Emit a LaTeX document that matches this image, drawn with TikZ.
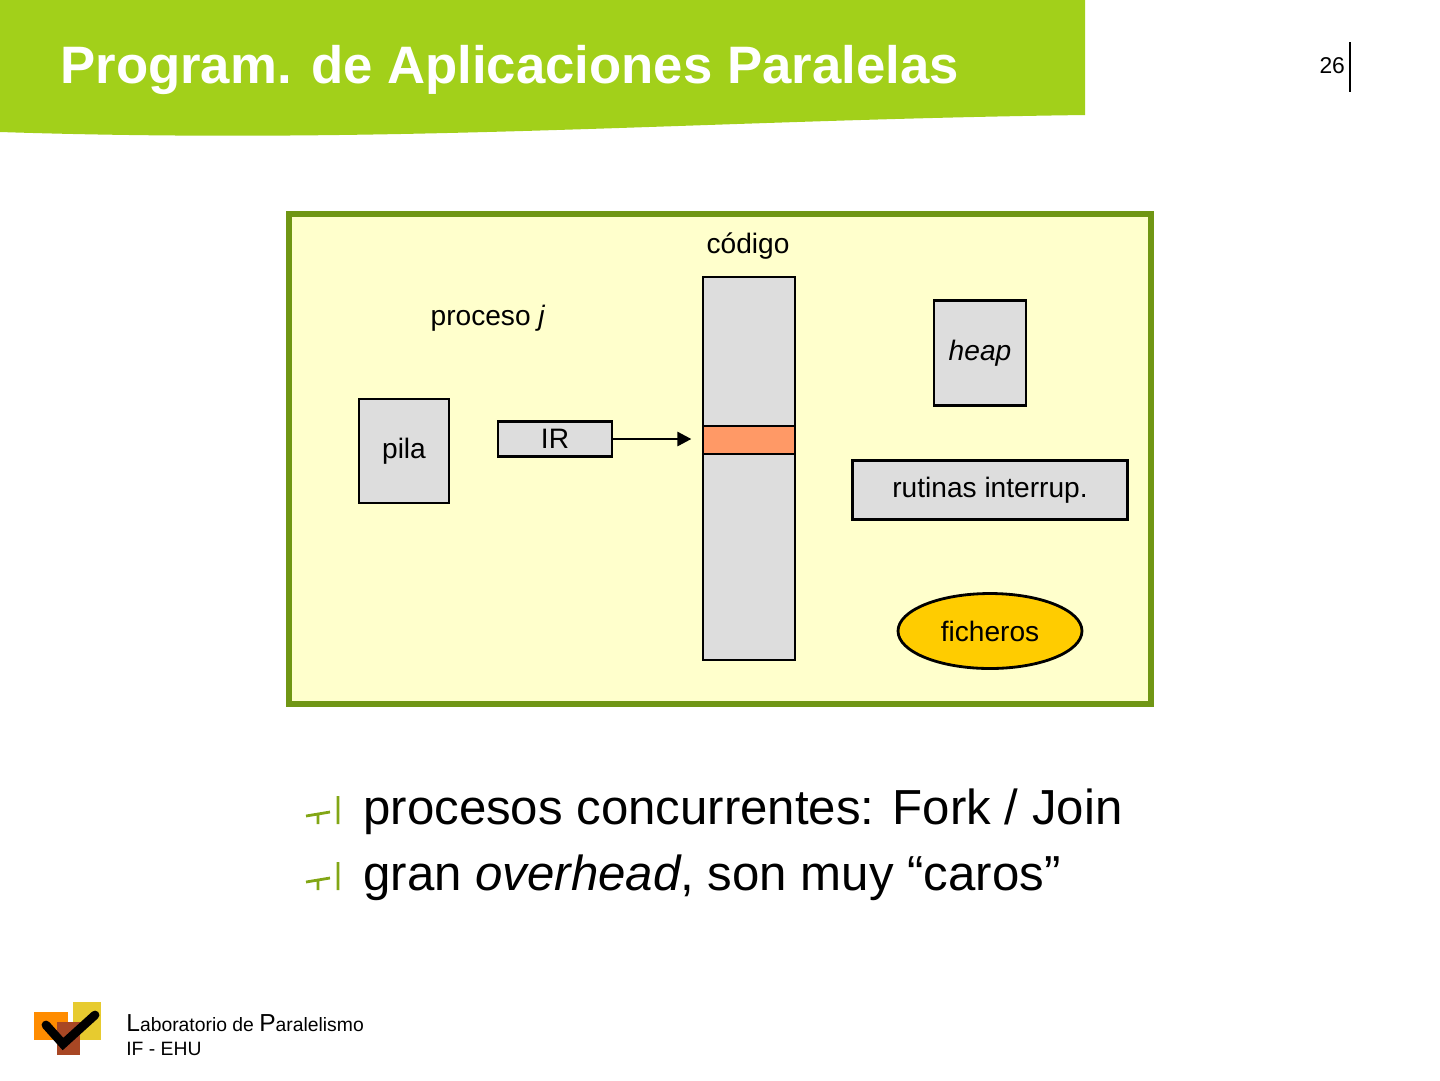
\documentclass[tikz,border=0pt]{standalone}
\usepackage{fontspec}
\setmainfont{Liberation Sans}
\usetikzlibrary{shapes.geometric,arrows.meta,positioning}
\definecolor{lime}{RGB}{162,208,26}
\definecolor{frame}{RGB}{112,150,20}
\definecolor{pale}{RGB}{255,255,204}
\definecolor{boxgray}{RGB}{221,221,221}
\definecolor{salmon}{RGB}{255,153,102}
\definecolor{gold}{RGB}{255,204,0}
\tikzset{
  blk/.style={draw=black, line width=1.6pt, fill=boxgray, inner sep=0pt, font=\fontsize{16}{18}\selectfont},
  lbl/.style={inner sep=0pt, font=\fontsize{16}{18}\selectfont},
  item/.style={anchor=west, inner sep=0pt, font=\fontsize{28}{32}\selectfont},
  bulletmark/.style={draw=lime!80!black, line width=1.6pt}
}
\begin{document}
\begin{tikzpicture}[x=0.02cm, y=-0.02cm]
\useasboundingbox (0,0) rectangle (1440,1080);
% header
\fill[lime] (0,0) -- (1085,0) -- (1085,115) .. controls (700,120) and (400,145) .. (0,132) -- cycle;
\node (title) [anchor=west, text=white, font=\fontsize{30}{34}\selectfont\bfseries, inner sep=0pt] at (60,70) {Program. de Aplicaciones Paralelas};
\node (page) [anchor=east, font=\fontsize{13}{15}\selectfont, inner sep=1pt] at (1347,66) {26};
\draw[line width=0.8pt] (1350,42) -- (1350,92);
% process frame
\fill[pale, draw=frame, line width=3pt] (289,214) rectangle (1151,704);
\node (proc) [lbl] at (488,318) {proceso \textit{j}};
\node (cod) [lbl] at (748,246) {código};
\node (code) [blk, minimum width=1.84cm, minimum height=7.66cm] at (749,468.5) {};
\node (ir) [draw=black, line width=1.6pt, fill=salmon, minimum width=1.84cm, minimum height=0.56cm, inner sep=0pt] at (749,440) {};
\node (pila) [blk, minimum width=1.8cm, minimum height=2.08cm] at (404,451) {pila};
\node (irreg) [blk, minimum width=2.28cm, minimum height=0.7cm] at (555,439) {IR};
\node (heap) [blk, minimum width=1.84cm, minimum height=2.1cm] at (980,353) {\textit{heap}};
\node (rut) [blk, minimum width=5.5cm, minimum height=1.18cm] at (990,490) {rutinas interrup.};
\node (fich) [ellipse, draw=black, line width=1.6pt, fill=gold, minimum width=3.68cm, minimum height=1.5cm, lbl] at (990,631) {ficheros};
\draw[-{Triangle[length=8pt,width=8pt]}, line width=1.6pt] (irreg.east) -- ++(78,0);
% bullets
\foreach \yy in {812,878} {
  \draw[bulletmark] (306,\yy+4) -- (330,\yy) (318,\yy+1) -- (318,\yy+12) (338,\yy-16) -- (338,\yy+12);
}
\node (b1) [item] at (363,812) {procesos concurrentes: Fork / Join};
\node (b2) [item] at (363,878) {gran \textit{overhead}, son muy “caros”};
% logo
\fill[orange!90!yellow] (34,1012) rectangle (68,1040);
\fill[yellow!60!brown] (73,1002) rectangle (101,1040);
\fill[brown!70!red!80!black] (57,1022) rectangle (80,1055);
\draw[line width=5pt, line cap=round] (46,1025) -- (63,1044) -- (95,1015);
\node (lab) [anchor=west, inner sep=0pt, font=\fontsize{11}{13}\selectfont] at (126,1023) {{\fontsize{14}{16}\selectfont L}aboratorio de {\fontsize{14}{16}\selectfont P}aralelismo};
\node (ehu) [anchor=west, inner sep=0pt, font=\fontsize{11}{13}\selectfont] at (126,1049) {IF - EHU};
\end{tikzpicture}
\end{document}
